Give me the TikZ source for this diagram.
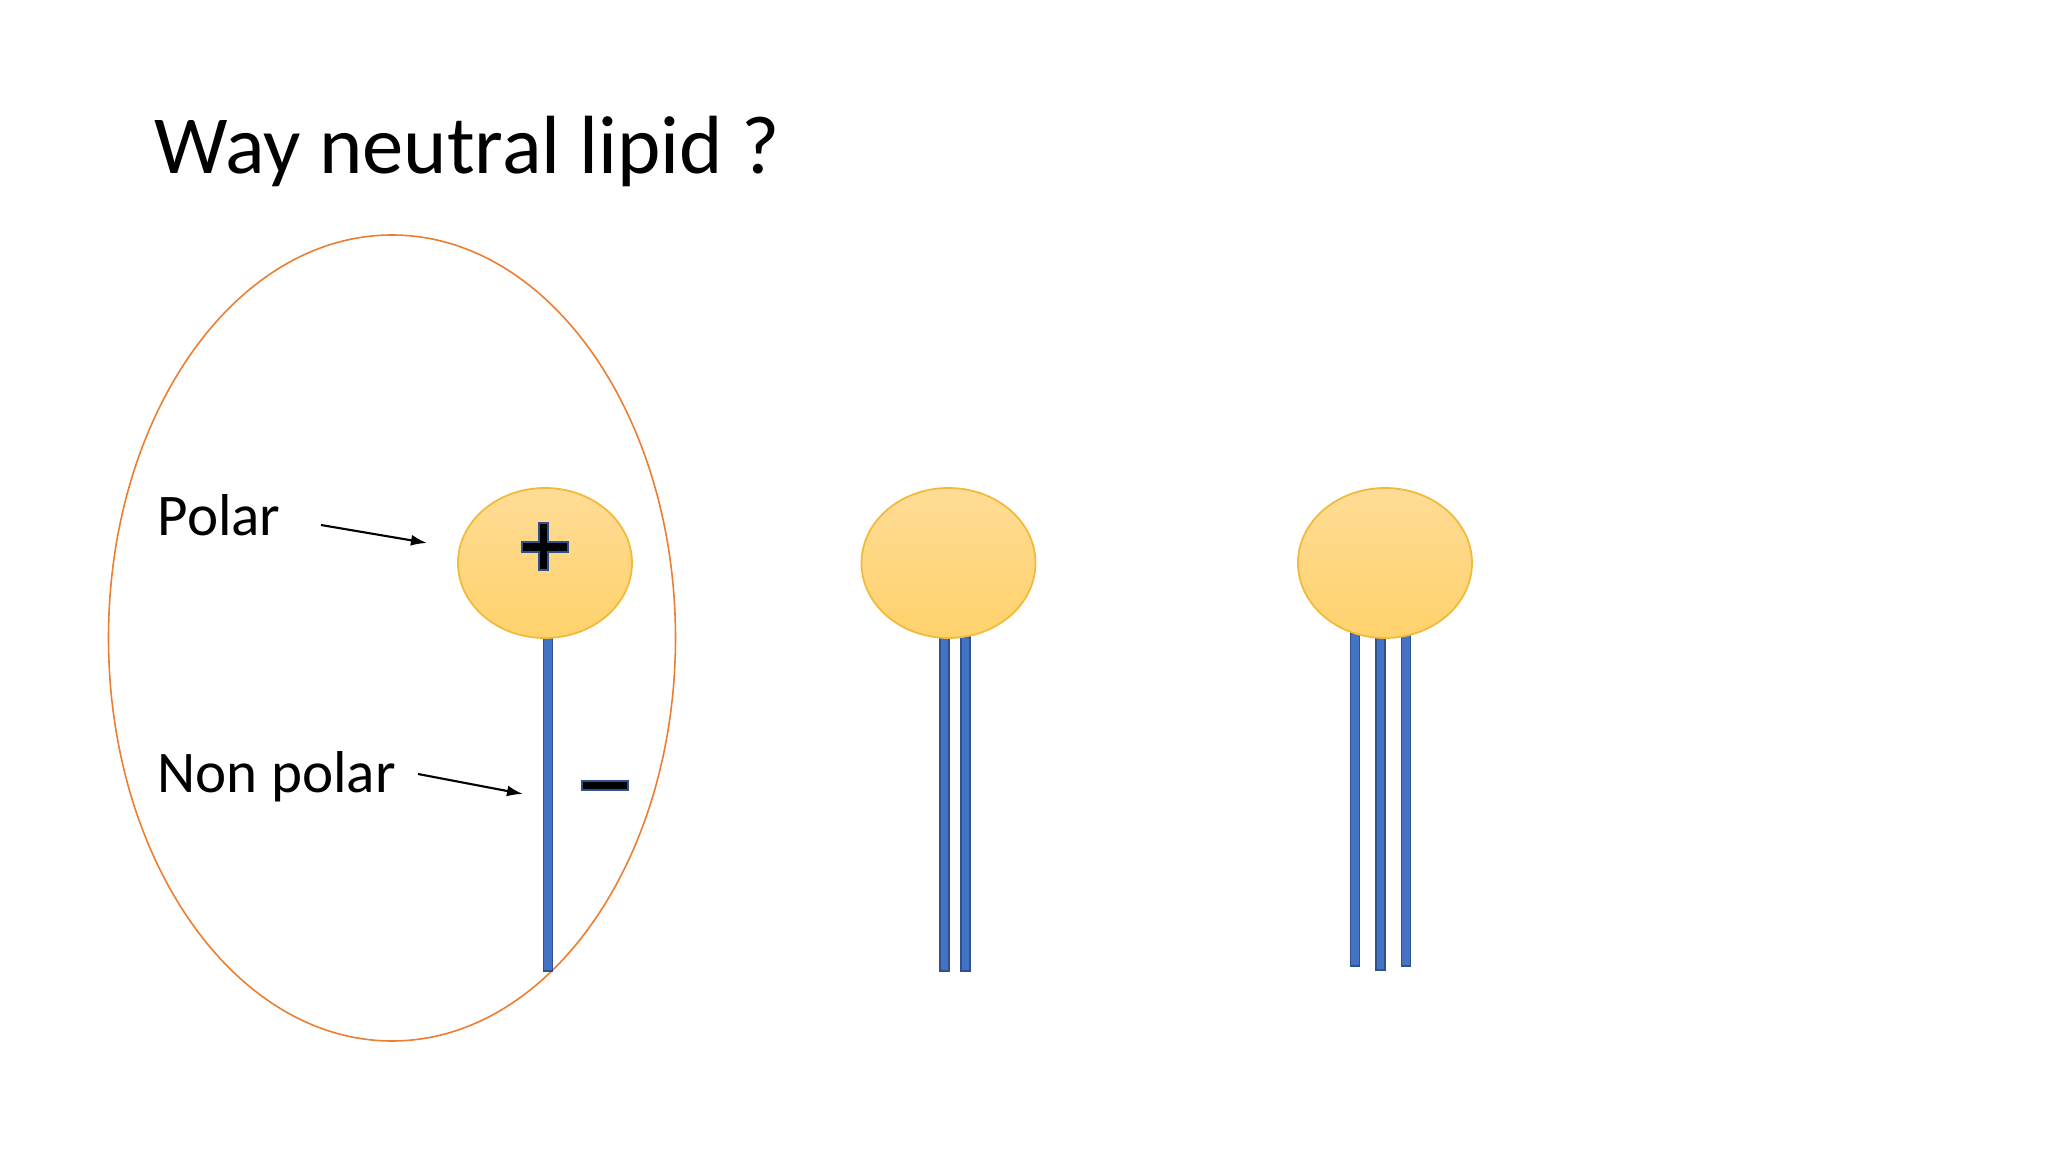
\documentclass[tikz,border=0pt]{standalone}
\usepackage{fontspec}
\setmainfont{Carlito}
\usetikzlibrary{shapes.geometric,arrows.meta}
\definecolor{headTop}{RGB}{255,220,150}
\definecolor{headBot}{RGB}{255,210,108}
\definecolor{headLine}{RGB}{242,186,58}
\definecolor{tailBlue}{RGB}{68,114,196}
\definecolor{tailLine}{RGB}{47,82,143}
\definecolor{ringOrange}{RGB}{237,125,49}
\begin{document}
\begin{tikzpicture}
        [head/.style={ellipse, draw=headLine, line width=0.5pt, top color=headTop, bottom color=headBot, minimum width=1.74cm, minimum height=1.50cm, inner sep=0},
        tail/.style={rectangle, draw=tailLine, fill=tailBlue, line width=0.5pt, minimum width=0.09cm, inner sep=0},
        sign/.style={draw=tailLine, fill=black, line width=0.6pt},
        txt/.style={anchor=base west, inner sep=0, font=\fontsize{16.8}{20}\selectfont},
        arrow/.style={line width=0.6pt, -{Latex[length=0.16cm, width=0.11cm]}}]
        \fill[white] (0,0) rectangle (20.48,-11.52);
        \useasboundingbox (0,0) rectangle (20.48,-11.52);

        \node[anchor=base west, inner sep=0, font=\fontsize{23.5}{28}\selectfont] (title) at (1.54,-1.74) {Way neutral lipid ?};

        % group around the first lipid
        \node[ellipse, draw=ringOrange, line width=0.45pt, minimum width=5.67cm, minimum height=8.06cm, inner sep=0] (ring) at (3.92,-6.38) {};

        % tails
        \node[tail, minimum height=3.34cm] (T1) at (5.48,-8.04) {};
        \node[tail, minimum height=3.34cm] (T2a) at (9.445,-8.04) {};
        \node[tail, minimum height=3.34cm] (T2b) at (9.655,-8.04) {};
        \node[tail, minimum height=3.33cm] (T3a) at (13.55,-7.995) {};
        \node[tail, minimum height=3.33cm] (T3b) at (13.805,-8.035) {};
        \node[tail, minimum height=3.33cm] (T3c) at (14.06,-7.995) {};

        % heads
        \node[head] (H1) at (5.45,-5.63) {};
        \node[head] (H2) at (9.485,-5.63) {};
        \node[head] (H3) at (13.85,-5.63) {};

        % charges
        \draw[sign] (5.39,-5.23) -- (5.48,-5.23) -- (5.48,-5.42) -- (5.68,-5.42) -- (5.68,-5.52) -- (5.48,-5.52)
            -- (5.48,-5.70) -- (5.39,-5.70) -- (5.39,-5.52) -- (5.22,-5.52) -- (5.22,-5.42) -- (5.39,-5.42) -- cycle;
        \draw[sign] (5.82,-7.81) rectangle (6.28,-7.90);

        % labels
        \node[txt] (polar) at (1.57,-5.35) {Polar};
        \node[txt] (nonpolar) at (1.57,-7.93) {Non polar};
        \coordinate (polarA) at (3.21,-5.25);
        \coordinate (polarB) at (4.27,-5.43);
        \coordinate (nonpolarA) at (4.18,-7.74);
        \coordinate (nonpolarB) at (5.23,-7.94);
        \draw[arrow] (polarA) -- (polarB);
        \draw[arrow] (nonpolarA) -- (nonpolarB);

    \end{tikzpicture}
\end{document}
